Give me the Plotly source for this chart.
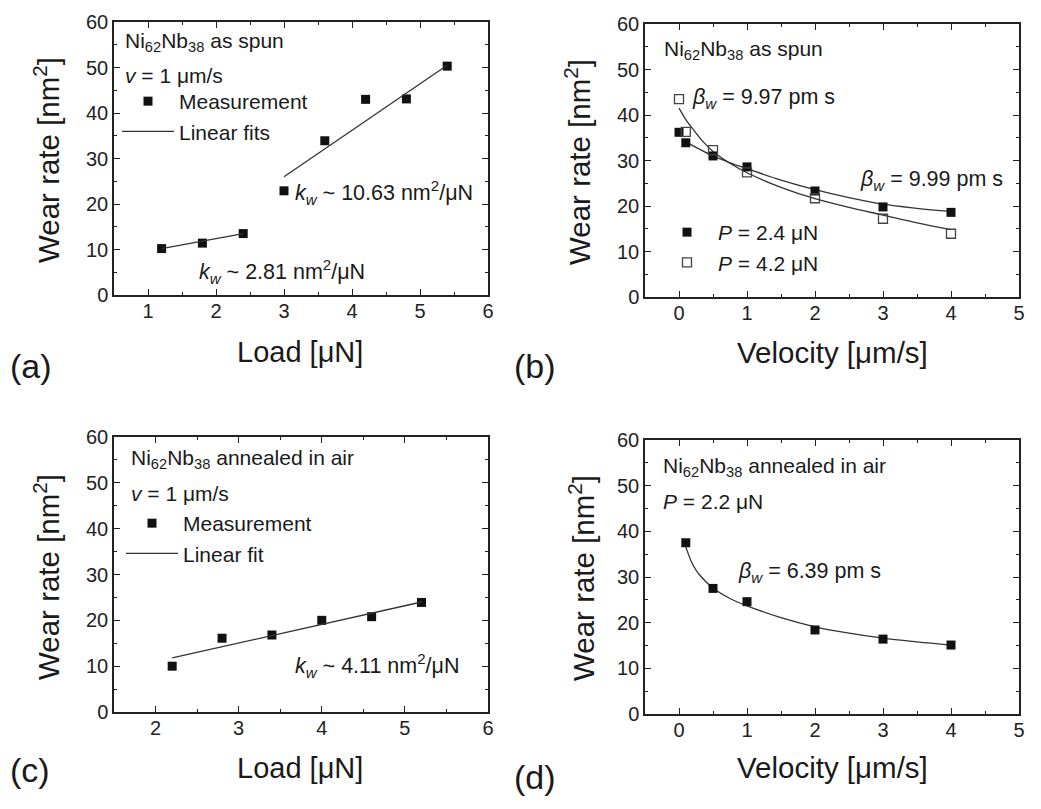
import plotly.graph_objects as go

W, H = 1041, 809
FONT = "Liberation Sans, Arial, Helvetica, sans-serif"
INK = "#1a1a1a"

# ---------------- data ----------------
# (a) as spun, v = 1 um/s
a_load = [1.2, 1.8, 2.4, 3.0, 3.6, 4.2, 4.8, 5.4]
a_wear = [10.2, 11.4, 13.5, 22.9, 33.9, 43.0, 43.1, 50.3]
a_fit_lo_x = [1.2, 2.4]
a_fit_lo_y = [10.2, 13.5]
a_fit_hi_x = [3.0, 5.4]
a_fit_hi_y = [26.0, 50.5]

# (b) as spun, velocity dependence
b_vel_p24 = [0.0, 0.1, 0.5, 1, 2, 3, 4]
b_wear_p24 = [36.2, 33.9, 31.0, 28.6, 23.3, 19.8, 18.6]
b_vel_p42 = [0.0, 0.1, 0.5, 1, 2, 3, 4]
b_wear_p42 = [43.5, 36.3, 32.3, 27.4, 21.7, 17.2, 13.9]
b_fit_p24_x = [0.1, 0.25, 0.5, 0.75, 1, 1.5, 2, 2.5, 3, 3.5, 4]
b_fit_p24_y = [34.1, 32.9, 31.0, 29.5, 28.2, 25.7, 23.6, 21.85, 20.4, 19.5, 18.8]
b_fit_p42_x = [0.0, 0.1, 0.2, 0.35, 0.5, 0.75, 1, 1.5, 2, 2.5, 3, 3.5, 4]
b_fit_p42_y = [41.5, 39.0, 37.0, 34.2, 32.0, 29.4, 27.3, 24.1, 21.6, 19.7, 18.0, 16.3, 14.8]

# (c) annealed in air, v = 1 um/s
c_load = [2.2, 2.8, 3.4, 4.0, 4.6, 5.2]
c_wear = [10.0, 16.1, 16.8, 20.0, 20.8, 23.9]
c_fit_x = [2.2, 5.2]
c_fit_y = [11.8, 24.0]

# (d) annealed in air, P = 2.2 uN
d_vel = [0.1, 0.5, 1, 2, 3, 4]
d_wear = [37.5, 27.5, 24.6, 18.4, 16.4, 15.1]
d_fit_x = [0.1, 0.2, 0.3, 0.5, 0.75, 1, 1.5, 2, 2.5, 3, 3.5, 4]
d_fit_y = [36.6, 32.8, 30.5, 27.6, 25.3, 23.7, 21.1, 19.1, 17.7, 16.6, 15.8, 15.1]


def px(x):
    return x / W


def py(y):
    return 1 - y / H


fig = go.Figure()

MK = dict(symbol="square", size=9, color="#111111")
MK_OPEN = dict(symbol="square-open", size=9, color="#444444", line=dict(width=1.3))
LN = dict(color="#333333", width=1.3)

# (a)
fig.add_trace(go.Scatter(x=a_load, y=a_wear, mode="markers", marker=MK, name="Measurement",
                         xaxis="x", yaxis="y", legend="legend"))
fig.add_trace(go.Scatter(x=a_fit_lo_x + [None] + a_fit_hi_x, y=a_fit_lo_y + [None] + a_fit_hi_y,
                         mode="lines", line=LN, name="Linear fits", connectgaps=False,
                         xaxis="x", yaxis="y", legend="legend"))
# (b)
fig.add_trace(go.Scatter(x=b_fit_p24_x, y=b_fit_p24_y, mode="lines", line=dict(LN, shape="spline"),
                         showlegend=False, xaxis="x2", yaxis="y2"))
fig.add_trace(go.Scatter(x=b_fit_p42_x, y=b_fit_p42_y, mode="lines", line=dict(LN, shape="spline"),
                         showlegend=False, xaxis="x2", yaxis="y2"))
fig.add_trace(go.Scatter(x=b_vel_p24, y=b_wear_p24, mode="markers", marker=MK,
                         name="<i>P</i> = 2.4 μN", xaxis="x2", yaxis="y2", legend="legend2"))
fig.add_trace(go.Scatter(x=b_vel_p42, y=b_wear_p42, mode="markers", marker=MK_OPEN,
                         name="<i>P</i> = 4.2 μN", xaxis="x2", yaxis="y2", legend="legend2"))
# (c)
fig.add_trace(go.Scatter(x=c_load, y=c_wear, mode="markers", marker=MK, name="Measurement",
                         xaxis="x3", yaxis="y3", legend="legend3"))
fig.add_trace(go.Scatter(x=c_fit_x, y=c_fit_y, mode="lines", line=LN, name="Linear fit",
                         xaxis="x3", yaxis="y3", legend="legend3"))
# (d)
fig.add_trace(go.Scatter(x=d_fit_x, y=d_fit_y, mode="lines", line=dict(LN, shape="spline"),
                         showlegend=False, xaxis="x4", yaxis="y4"))
fig.add_trace(go.Scatter(x=d_vel, y=d_wear, mode="markers", marker=MK, showlegend=False,
                         xaxis="x4", yaxis="y4"))

axis_common = dict(
    showline=True, linecolor="#222222", linewidth=1.5, mirror="ticks",
    ticks="inside", ticklen=6, tickwidth=1.3, tickcolor="#222222",
    showgrid=False, zeroline=False, automargin=False,
    tickfont=dict(family=FONT, size=20, color="#222222"),
)


def xax(domain, rng, anchor):
    return dict(axis_common, domain=domain, range=rng, tick0=0, dtick=1, anchor=anchor,
                ticklabelstandoff=-3,
                minor=dict(ticks="inside", ticklen=3, tickwidth=1.2, tickcolor="#222222",
                           tick0=0, dtick=0.5, showgrid=False))


def yax(domain, anchor):
    return dict(axis_common, domain=domain, range=[0, 60], tick0=0, dtick=10, anchor=anchor,
                ticklabelstandoff=0,
                minor=dict(ticks="inside", ticklen=3, tickwidth=1.2, tickcolor="#222222",
                           tick0=0, dtick=5, showgrid=False))


xa = [px(114), px(488)]
xb = [px(645), px(1019)]
ya = [py(295), py(22)]
yb = [py(297), py(24)]
yc = [py(712), py(437)]
yd = [py(714), py(440)]

leg_common = dict(bgcolor="rgba(0,0,0,0)", font=dict(family=FONT, size=21, color=INK),
                  itemwidth=52, traceorder="normal",
                  xanchor="left", yanchor="top", borderwidth=0)

fig.update_layout(
    template="none",
    width=W, height=H, margin=dict(l=0, r=0, t=0, b=0, pad=0), autosize=False,
    paper_bgcolor="white", plot_bgcolor="white",
    font=dict(family=FONT, color=INK),
    xaxis=xax(xa, [0.5, 6], "y"), yaxis=yax(ya, "x"),
    xaxis2=xax(xb, [-0.5, 5], "y2"), yaxis2=yax(yb, "x2"),
    xaxis3=xax(xa, [1.5, 6], "y3"), yaxis3=yax(yc, "x3"),
    xaxis4=xax(xb, [-0.5, 5], "y4"), yaxis4=yax(yd, "x4"),
    legend=dict(leg_common, x=px(117), y=py(81)),
    legend2=dict(leg_common, x=px(656), y=py(212)),
    legend3=dict(leg_common, x=px(121), y=py(503)),
    showlegend=True,
)

ann = []


def text(x, y, s, size=21, xanchor="left", angle=0):
    ann.append(dict(x=px(x), y=py(y), xref="paper", yref="paper", text=s, showarrow=False,
                    xanchor=xanchor, yanchor="middle", textangle=angle,
                    font=dict(family=FONT, size=size, color=INK)))


NI = "Ni<sub>62</sub>Nb<sub>38</sub>"
# (a)
text(123, 42, NI + " as spun")
text(123, 76, "<i>v</i> = 1 μm/s")
text(293, 193, "<i>k<sub>w</sub></i> ~ 10.63 nm<sup>2</sup>/μN", size=21.5)
text(197, 272, "<i>k<sub>w</sub></i> ~ 2.81 nm<sup>2</sup>/μN", size=21.5)
# (b)
text(662, 50, NI + " as spun")
text(690, 99, "<i>β<sub>w</sub></i> = 9.97 pm s", size=21.5)
text(858, 180, "<i>β<sub>w</sub></i> = 9.99 pm s", size=21.5)
# (c)
text(129, 459, NI + " annealed in air")
text(129, 493, "<i>v</i> = 1 μm/s")
text(293, 665, "<i>k<sub>w</sub></i> ~ 4.11 nm<sup>2</sup>/μN", size=21.5)
# (d)
text(661, 467, NI + " annealed in air")
text(661, 501, "<i>P</i> = 2.2 μN")
text(736, 572, "<i>β<sub>w</sub></i> = 6.39 pm s", size=21.5)

# axis titles
for (xc, yc_) in [(46, 160), (577, 162), (46, 577), (581, 578)]:
    text(xc, yc_, "Wear rate [nm<sup>2</sup>]", size=29.5, xanchor="center", angle=-90)
text(300, 352, "Load [μN]", size=29, xanchor="center")
text(832, 352, "Velocity [μm/s]", size=29.5, xanchor="center")
text(300, 768, "Load [μN]", size=29, xanchor="center")
text(832, 767, "Velocity [μm/s]", size=29.5, xanchor="center")

# panel labels
text(8, 366, "(a)", size=34)
text(512, 366, "(b)", size=34)
text(8, 770, "(c)", size=34)
text(512, 777, "(d)", size=34)

fig.update_layout(annotations=ann)
fig.write_html("out.html")
